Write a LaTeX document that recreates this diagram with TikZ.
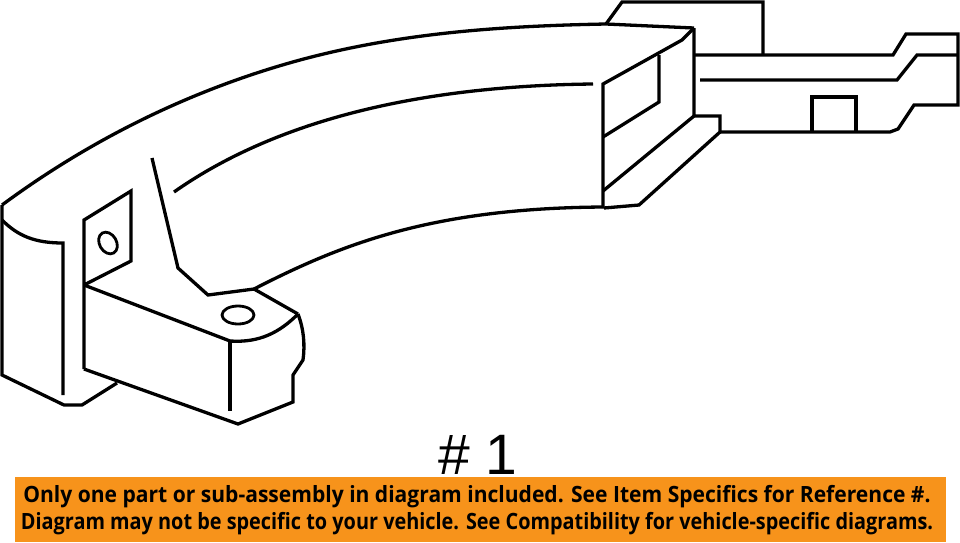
\documentclass[tikz,border=0pt]{standalone}
\usepackage{fontspec}
\newfontfamily\bannerfont[FakeStretch=0.94]{Open Sans}
\newfontfamily\bannerfontB[FakeStretch=0.887]{Open Sans}
\newfontfamily\labelfont{Liberation Sans}
\definecolor{bannerOrange}{HTML}{F7931B}
\begin{document}
\begin{tikzpicture}
[x=1pt,y=-1pt,
  partLine/.style={line width=3.3pt,line join=miter,black},%
  thinLine/.style={line width=2.8pt,black},%
  bannerText/.style={inner sep=0pt,text=black}]
\useasboundingbox (0,0) rectangle (960,542);
% banner
\fill[bannerOrange] (15,477) rectangle (946,542);
\node[bannerText,font=\bannerfont\bfseries\fontsize{22.4}{22.4}\selectfont](line1) at (477,496.5){Only one part or sub-assembly in diagram included. See Item Specifics for Reference \#.};
\node[bannerText,font=\bannerfontB\bfseries\fontsize{22.4}{22.4}\selectfont](line2) at (477,523.5){Diagram may not be specific to your vehicle. See Compatibility for vehicle-specific diagrams.};
\node[inner sep=0pt,font=\labelfont\fontsize{57}{57}\selectfont](partNo) at (478,455){\# 1};
% arcs of the body
\draw[partLine] (2,205) .. controls (90,140) and (190,90) .. (300,60)
  .. controls (400,33) and (500,26) .. (606,24) -- (694,28);
\draw[partLine] (174,192) .. controls (265,128) and (400,86) .. (593,84);
\draw[partLine] (254,289) .. controls (340,245) and (430,208) .. (604,207);
% end with the hole
\draw[partLine] (2,205) -- (2,375) -- (64,405) -- (82,405) -- (117,383);
\draw[partLine] (2,220) .. controls (18,236) and (35,243) .. (63,243) -- (63,395);
\draw[partLine] (84,369) -- (84,220) -- (131,191) -- (131,261) -- (84,285);
\draw[thinLine,rotate around={30:(108,243)}] (108,243) ellipse [x radius=8.5,y radius=11.5];
\draw[partLine] (84,285) -- (230,341) .. controls (260,343) and (280,332) .. (298,314);
\draw[partLine] (84,369) -- (238,424) -- (293,402) -- (293,375) -- (303,360)
  .. controls (305,345) and (304,330) .. (298,314);
\draw[partLine] (230,341) -- (230,411);
\draw[partLine] (152,158) -- (178,268) -- (208,295) -- (254,289) -- (298,314);
\draw[thinLine] (238,315) ellipse [x radius=16,y radius=9];
% square end of the body
\draw[partLine] (694,28) -- (694,116) -- (720,116) -- (720,132) -- (639,205) -- (604,208);
\draw[partLine] (603,208) -- (603,84) -- (682,40) -- (694,28);
\draw[partLine] (659,55) -- (659,102) -- (603,137);
\draw[partLine] (603,191) -- (694,116);
% bracket behind
\draw[partLine] (606,24) -- (622,2) -- (763,2) -- (763,55);
\draw[partLine] (695,55) -- (893,55) -- (906,34) -- (958,34) -- (958,105) -- (914,105)
  -- (898,129) -- (890,132) -- (720,132);
\draw[partLine] (700,80) -- (897,80) -- (917,55) -- (958,55);
\draw[partLine] (812,132) -- (812,97) -- (856,97) -- (856,132);
\end{tikzpicture}
\end{document}
